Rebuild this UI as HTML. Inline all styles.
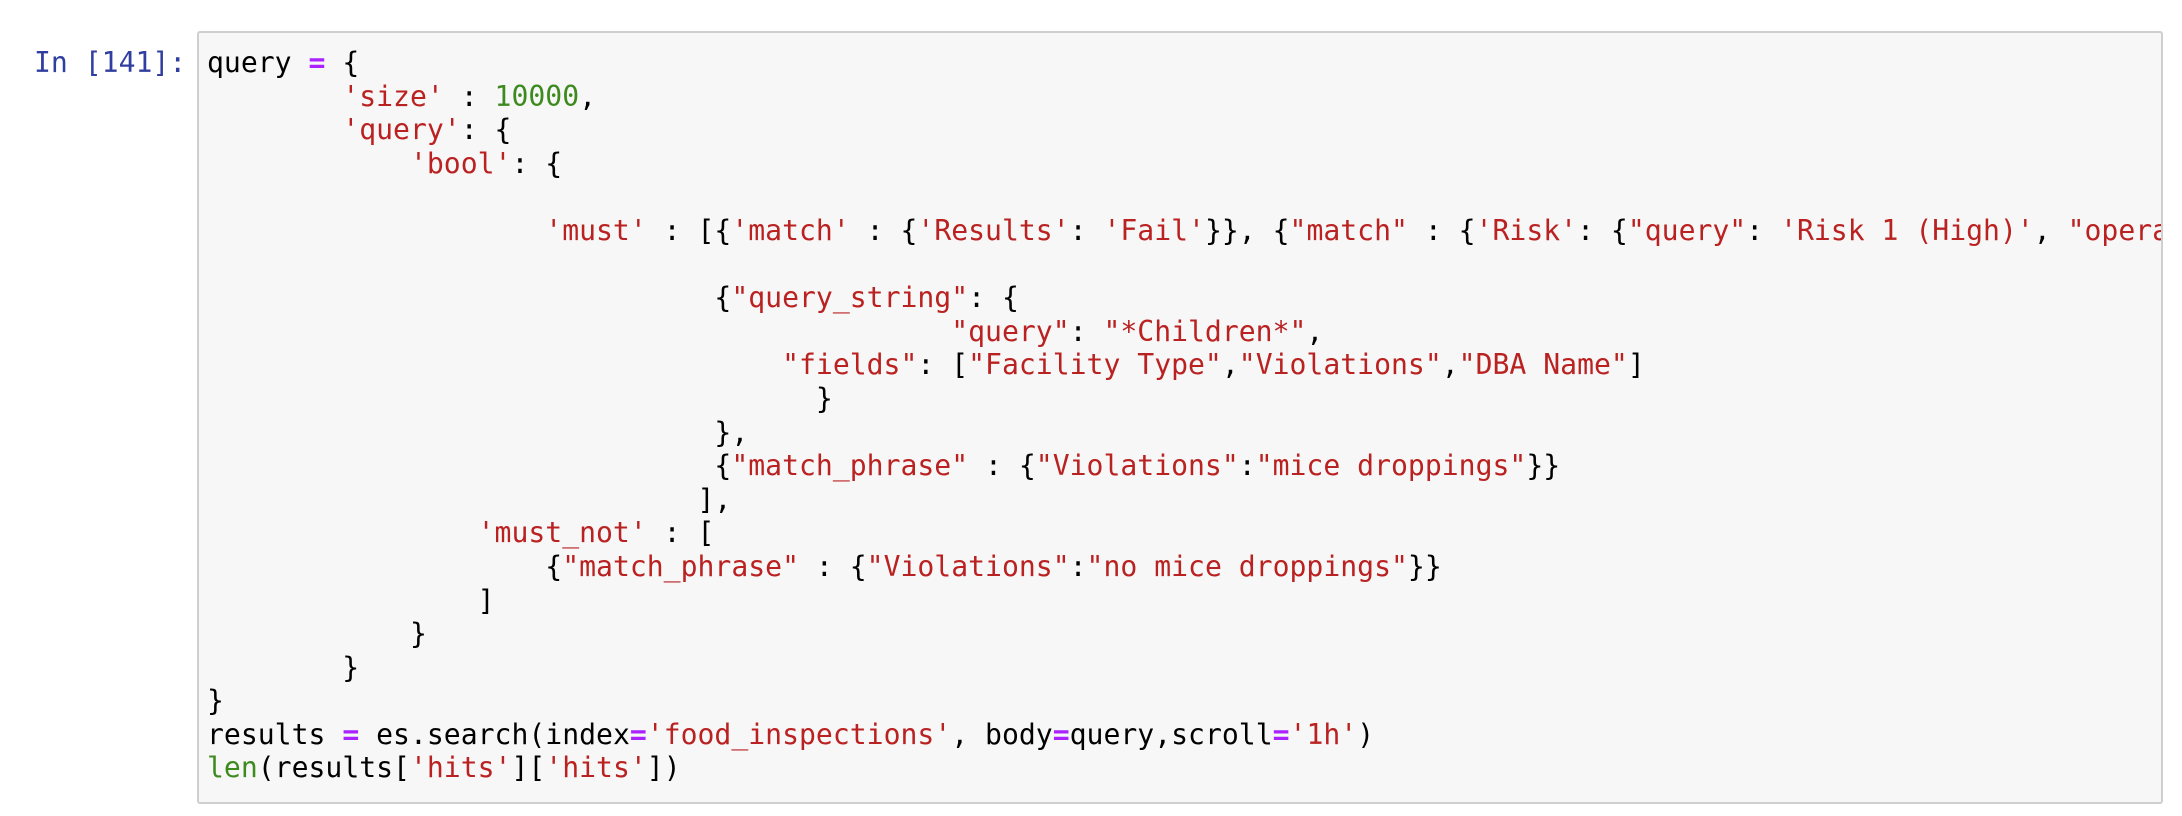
<!DOCTYPE html>
<html><head><meta charset="utf-8"><style>
html,body{margin:0;padding:0;background:#fff;width:2182px;height:816px;overflow:hidden}
.box{position:absolute;left:197px;top:31px;width:1962px;height:769px;background:#f7f7f7;border:2px solid #cfcfcf;border-radius:3px;overflow:hidden}
pre{margin:0;font-family:"DejaVu Sans Mono","Liberation Mono",monospace;font-size:28.1px;line-height:33.6px;color:#000;white-space:pre}
.code{position:absolute;left:8px;top:13px}
.prompt{position:absolute;left:34px;top:46px;color:#303F9F}
.s{color:#BA2121}.n{color:#3d8a1f}.o{color:#AA22FF;font-weight:bold}.b{color:#3d8a1f}
</style></head><body>
<pre class="prompt">In [141]:</pre>
<div class="box"><pre class="code">query <span class="o">=</span> {
        <span class="s">'size'</span> : <span class="n">10000</span>,
        <span class="s">'query'</span>: {
            <span class="s">'bool'</span>: {

                    <span class="s">'must'</span> : [{<span class="s">'match'</span> : {<span class="s">'Results'</span>: <span class="s">'Fail'</span>}}, {<span class="s">"match"</span> : {<span class="s">'Risk'</span>: {<span class="s">"query"</span>: <span class="s">'Risk 1 (High)'</span>, <span class="s">"operator"</span>: <span class="s">"and"</span>}}},

                              {<span class="s">"query_string"</span>: {
                                            <span class="s">"query"</span>: <span class="s">"*Children*"</span>,
                                  <span class="s">"fields"</span>: [<span class="s">"Facility Type"</span>,<span class="s">"Violations"</span>,<span class="s">"DBA Name"</span>]
                                    }
                              },
                              {<span class="s">"match_phrase"</span> : {<span class="s">"Violations"</span>:<span class="s">"mice droppings"</span>}}
                             ],
                <span class="s">'must_not'</span> : [
                    {<span class="s">"match_phrase"</span> : {<span class="s">"Violations"</span>:<span class="s">"no mice droppings"</span>}}
                ]
            }
        }
}
results <span class="o">=</span> es.search(index<span class="o">=</span><span class="s">'food_inspections'</span>, body<span class="o">=</span>query,scroll<span class="o">=</span><span class="s">'1h'</span>)
<span class="b">len</span>(results[<span class="s">'hits'</span>][<span class="s">'hits'</span>])</pre></div>
</body></html>
